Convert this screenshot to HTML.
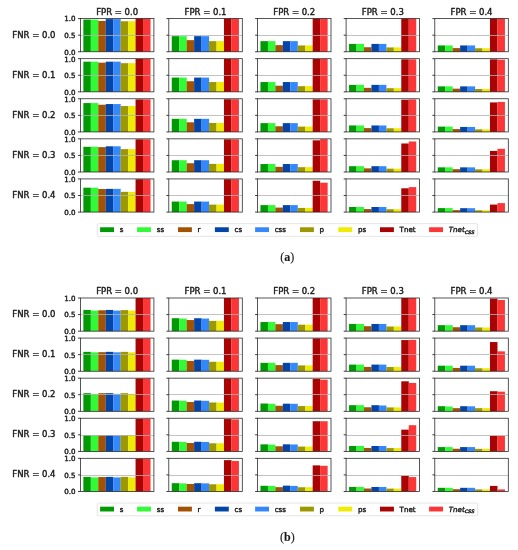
<!DOCTYPE html>
<html lang="en"><head><meta charset="utf-8"><title>Figure</title>
<style>html,body{margin:0;padding:0;background:#fff}svg{display:block}text{stroke:#1a1a1a;stroke-width:.4px}</style>
</head><body>
<svg width="518" height="550" viewBox="0 0 518 550" font-family="'DejaVu Sans', 'Liberation Sans', sans-serif" fill="#1a1a1a">
<rect width="518" height="550" fill="#fff"/>
<text x="12.3" y="37.67" font-size="8.5">FNR = 0.0</text>
<text x="75.6" y="21.45" font-size="7.1" text-anchor="end">1.0</text>
<text x="75.6" y="38.02" font-size="7.1" text-anchor="end">0.5</text>
<text x="75.6" y="54.6" font-size="7.1" text-anchor="end">0.0</text>
<text x="117.15" y="15" font-size="8.5" text-anchor="middle">FPR = 0.0</text>
<rect x="83.35" y="19.59" width="7.51" height="32.16" fill="#029a04"/>
<rect x="90.81" y="19.59" width="7.51" height="32.16" fill="#33fa36"/>
<rect x="98.27" y="20.92" width="7.51" height="30.83" fill="#a35203"/>
<rect x="105.73" y="19.1" width="7.51" height="32.65" fill="#0445a8"/>
<rect x="113.19" y="19.1" width="7.51" height="32.65" fill="#3588fc"/>
<rect x="120.65" y="21.25" width="7.51" height="30.5" fill="#9d9802"/>
<rect x="128.11" y="21.25" width="7.51" height="30.5" fill="#eeeb04"/>
<rect x="135.57" y="18.6" width="7.51" height="33.15" fill="#a80404"/>
<rect x="143.03" y="18.6" width="7.51" height="33.15" fill="#fc3636"/>
<path d="M80.4 35.5H153.9" stroke="#b2b2b2" stroke-width="0.8"/>
<rect x="80.4" y="18.6" width="73.5" height="33.15" fill="none" stroke="#262626" stroke-width="0.78"/>
<path d="M78 18.6H80.4M78 35.17H80.4M78 51.75H80.4" stroke="#262626" stroke-width="0.9"/>
<text x="205.55" y="15" font-size="8.5" text-anchor="middle">FPR = 0.1</text>
<rect x="171.75" y="36.17" width="7.51" height="15.58" fill="#029a04"/>
<rect x="179.21" y="36.17" width="7.51" height="15.58" fill="#33fa36"/>
<rect x="186.67" y="40.15" width="7.51" height="11.6" fill="#a35203"/>
<rect x="194.13" y="36.17" width="7.51" height="15.58" fill="#0445a8"/>
<rect x="201.59" y="36.17" width="7.51" height="15.58" fill="#3588fc"/>
<rect x="209.05" y="41.14" width="7.51" height="10.61" fill="#9d9802"/>
<rect x="216.51" y="41.14" width="7.51" height="10.61" fill="#eeeb04"/>
<rect x="223.97" y="18.6" width="7.51" height="33.15" fill="#a80404"/>
<rect x="231.43" y="18.6" width="7.51" height="33.15" fill="#fc3636"/>
<path d="M168.8 35.5H242.3" stroke="#b2b2b2" stroke-width="0.8"/>
<rect x="168.8" y="18.6" width="73.5" height="33.15" fill="none" stroke="#262626" stroke-width="0.78"/>
<path d="M166.4 18.6H168.8M166.4 35.17H168.8M166.4 51.75H168.8" stroke="#262626" stroke-width="0.9"/>
<text x="294.25" y="15" font-size="8.5" text-anchor="middle">FPR = 0.2</text>
<rect x="260.45" y="41.14" width="7.51" height="10.61" fill="#029a04"/>
<rect x="267.91" y="41.14" width="7.51" height="10.61" fill="#33fa36"/>
<rect x="275.37" y="45.12" width="7.51" height="6.63" fill="#a35203"/>
<rect x="282.83" y="41.14" width="7.51" height="10.61" fill="#0445a8"/>
<rect x="290.29" y="41.14" width="7.51" height="10.61" fill="#3588fc"/>
<rect x="297.75" y="45.45" width="7.51" height="6.3" fill="#9d9802"/>
<rect x="305.21" y="45.45" width="7.51" height="6.3" fill="#eeeb04"/>
<rect x="312.67" y="18.6" width="7.51" height="33.15" fill="#a80404"/>
<rect x="320.13" y="18.6" width="7.51" height="33.15" fill="#fc3636"/>
<path d="M257.5 35.5H331" stroke="#b2b2b2" stroke-width="0.8"/>
<rect x="257.5" y="18.6" width="73.5" height="33.15" fill="none" stroke="#262626" stroke-width="0.78"/>
<path d="M255.1 18.6H257.5M255.1 35.17H257.5M255.1 51.75H257.5" stroke="#262626" stroke-width="0.9"/>
<text x="382.85" y="15" font-size="8.5" text-anchor="middle">FPR = 0.3</text>
<rect x="349.05" y="43.93" width="7.51" height="7.82" fill="#029a04"/>
<rect x="356.51" y="43.93" width="7.51" height="7.82" fill="#33fa36"/>
<rect x="363.97" y="47.24" width="7.51" height="4.51" fill="#a35203"/>
<rect x="371.43" y="43.93" width="7.51" height="7.82" fill="#0445a8"/>
<rect x="378.89" y="43.93" width="7.51" height="7.82" fill="#3588fc"/>
<rect x="386.35" y="47.44" width="7.51" height="4.31" fill="#9d9802"/>
<rect x="393.81" y="47.44" width="7.51" height="4.31" fill="#eeeb04"/>
<rect x="401.27" y="18.6" width="7.51" height="33.15" fill="#a80404"/>
<rect x="408.73" y="18.6" width="7.51" height="33.15" fill="#fc3636"/>
<path d="M346.1 35.5H419.6" stroke="#b2b2b2" stroke-width="0.8"/>
<rect x="346.1" y="18.6" width="73.5" height="33.15" fill="none" stroke="#262626" stroke-width="0.78"/>
<path d="M343.7 18.6H346.1M343.7 35.17H346.1M343.7 51.75H346.1" stroke="#262626" stroke-width="0.9"/>
<text x="471.55" y="15" font-size="8.5" text-anchor="middle">FPR = 0.4</text>
<rect x="437.75" y="45.45" width="7.51" height="6.3" fill="#029a04"/>
<rect x="445.21" y="45.45" width="7.51" height="6.3" fill="#33fa36"/>
<rect x="452.67" y="48.1" width="7.51" height="3.65" fill="#a35203"/>
<rect x="460.13" y="45.45" width="7.51" height="6.3" fill="#0445a8"/>
<rect x="467.59" y="45.45" width="7.51" height="6.3" fill="#3588fc"/>
<rect x="475.05" y="48.27" width="7.51" height="3.48" fill="#9d9802"/>
<rect x="482.51" y="48.27" width="7.51" height="3.48" fill="#eeeb04"/>
<rect x="489.97" y="18.6" width="7.51" height="33.15" fill="#a80404"/>
<rect x="497.43" y="18.6" width="7.51" height="33.15" fill="#fc3636"/>
<path d="M434.8 35.5H508.3" stroke="#b2b2b2" stroke-width="0.8"/>
<rect x="434.8" y="18.6" width="73.5" height="33.15" fill="none" stroke="#262626" stroke-width="0.78"/>
<path d="M432.4 18.6H434.8M432.4 35.17H434.8M432.4 51.75H434.8" stroke="#262626" stroke-width="0.9"/>
<text x="12.3" y="77.75" font-size="8.5">FNR = 0.1</text>
<text x="75.6" y="61.53" font-size="7.1" text-anchor="end">1.0</text>
<text x="75.6" y="78.1" font-size="7.1" text-anchor="end">0.5</text>
<text x="75.6" y="94.68" font-size="7.1" text-anchor="end">0.0</text>
<rect x="83.35" y="61.66" width="7.51" height="30.17" fill="#029a04"/>
<rect x="90.81" y="61.66" width="7.51" height="30.17" fill="#33fa36"/>
<rect x="98.27" y="62.66" width="7.51" height="29.17" fill="#a35203"/>
<rect x="105.73" y="61.66" width="7.51" height="30.17" fill="#0445a8"/>
<rect x="113.19" y="61.66" width="7.51" height="30.17" fill="#3588fc"/>
<rect x="120.65" y="63.16" width="7.51" height="28.67" fill="#9d9802"/>
<rect x="128.11" y="63.16" width="7.51" height="28.67" fill="#eeeb04"/>
<rect x="135.57" y="59.01" width="7.51" height="32.82" fill="#a80404"/>
<rect x="143.03" y="59.01" width="7.51" height="32.82" fill="#fc3636"/>
<path d="M80.4 75.5H153.9" stroke="#b2b2b2" stroke-width="0.8"/>
<rect x="80.4" y="58.68" width="73.5" height="33.15" fill="none" stroke="#262626" stroke-width="0.78"/>
<path d="M78 58.68H80.4M78 75.25H80.4M78 91.83H80.4" stroke="#262626" stroke-width="0.9"/>
<rect x="171.75" y="77.58" width="7.51" height="14.25" fill="#029a04"/>
<rect x="179.21" y="77.58" width="7.51" height="14.25" fill="#33fa36"/>
<rect x="186.67" y="81.22" width="7.51" height="10.61" fill="#a35203"/>
<rect x="194.13" y="77.58" width="7.51" height="14.25" fill="#0445a8"/>
<rect x="201.59" y="77.58" width="7.51" height="14.25" fill="#3588fc"/>
<rect x="209.05" y="82.05" width="7.51" height="9.78" fill="#9d9802"/>
<rect x="216.51" y="82.05" width="7.51" height="9.78" fill="#eeeb04"/>
<rect x="223.97" y="59.01" width="7.51" height="32.82" fill="#a80404"/>
<rect x="231.43" y="59.01" width="7.51" height="32.82" fill="#fc3636"/>
<path d="M168.8 75.5H242.3" stroke="#b2b2b2" stroke-width="0.8"/>
<rect x="168.8" y="58.68" width="73.5" height="33.15" fill="none" stroke="#262626" stroke-width="0.78"/>
<path d="M166.4 58.68H168.8M166.4 75.25H168.8M166.4 91.83H168.8" stroke="#262626" stroke-width="0.9"/>
<rect x="260.45" y="82.05" width="7.51" height="9.78" fill="#029a04"/>
<rect x="267.91" y="82.05" width="7.51" height="9.78" fill="#33fa36"/>
<rect x="275.37" y="85.7" width="7.51" height="6.13" fill="#a35203"/>
<rect x="282.83" y="82.05" width="7.51" height="9.78" fill="#0445a8"/>
<rect x="290.29" y="82.05" width="7.51" height="9.78" fill="#3588fc"/>
<rect x="297.75" y="86.19" width="7.51" height="5.64" fill="#9d9802"/>
<rect x="305.21" y="86.19" width="7.51" height="5.64" fill="#eeeb04"/>
<rect x="312.67" y="59.01" width="7.51" height="32.82" fill="#a80404"/>
<rect x="320.13" y="59.01" width="7.51" height="32.82" fill="#fc3636"/>
<path d="M257.5 75.5H331" stroke="#b2b2b2" stroke-width="0.8"/>
<rect x="257.5" y="58.68" width="73.5" height="33.15" fill="none" stroke="#262626" stroke-width="0.78"/>
<path d="M255.1 58.68H257.5M255.1 75.25H257.5M255.1 91.83H257.5" stroke="#262626" stroke-width="0.9"/>
<rect x="349.05" y="84.87" width="7.51" height="6.96" fill="#029a04"/>
<rect x="356.51" y="84.87" width="7.51" height="6.96" fill="#33fa36"/>
<rect x="363.97" y="87.85" width="7.51" height="3.98" fill="#a35203"/>
<rect x="371.43" y="84.87" width="7.51" height="6.96" fill="#0445a8"/>
<rect x="378.89" y="84.87" width="7.51" height="6.96" fill="#3588fc"/>
<rect x="386.35" y="88.18" width="7.51" height="3.65" fill="#9d9802"/>
<rect x="393.81" y="88.18" width="7.51" height="3.65" fill="#eeeb04"/>
<rect x="401.27" y="59.34" width="7.51" height="32.49" fill="#a80404"/>
<rect x="408.73" y="59.34" width="7.51" height="32.49" fill="#fc3636"/>
<path d="M346.1 75.5H419.6" stroke="#b2b2b2" stroke-width="0.8"/>
<rect x="346.1" y="58.68" width="73.5" height="33.15" fill="none" stroke="#262626" stroke-width="0.78"/>
<path d="M343.7 58.68H346.1M343.7 75.25H346.1M343.7 91.83H346.1" stroke="#262626" stroke-width="0.9"/>
<rect x="437.75" y="86.36" width="7.51" height="5.47" fill="#029a04"/>
<rect x="445.21" y="86.36" width="7.51" height="5.47" fill="#33fa36"/>
<rect x="452.67" y="88.68" width="7.51" height="3.15" fill="#a35203"/>
<rect x="460.13" y="86.36" width="7.51" height="5.47" fill="#0445a8"/>
<rect x="467.59" y="86.36" width="7.51" height="5.47" fill="#3588fc"/>
<rect x="475.05" y="89.01" width="7.51" height="2.82" fill="#9d9802"/>
<rect x="482.51" y="89.01" width="7.51" height="2.82" fill="#eeeb04"/>
<rect x="489.97" y="59.34" width="7.51" height="32.49" fill="#a80404"/>
<rect x="497.43" y="59.67" width="7.51" height="32.16" fill="#fc3636"/>
<path d="M434.8 75.5H508.3" stroke="#b2b2b2" stroke-width="0.8"/>
<rect x="434.8" y="58.68" width="73.5" height="33.15" fill="none" stroke="#262626" stroke-width="0.78"/>
<path d="M432.4 58.68H434.8M432.4 75.25H434.8M432.4 91.83H434.8" stroke="#262626" stroke-width="0.9"/>
<text x="12.3" y="117.83" font-size="8.5">FNR = 0.2</text>
<text x="75.6" y="101.61" font-size="7.1" text-anchor="end">1.0</text>
<text x="75.6" y="118.18" font-size="7.1" text-anchor="end">0.5</text>
<text x="75.6" y="134.76" font-size="7.1" text-anchor="end">0.0</text>
<rect x="83.35" y="103.07" width="7.51" height="28.84" fill="#029a04"/>
<rect x="90.81" y="103.07" width="7.51" height="28.84" fill="#33fa36"/>
<rect x="98.27" y="104.73" width="7.51" height="27.18" fill="#a35203"/>
<rect x="105.73" y="104.06" width="7.51" height="27.85" fill="#0445a8"/>
<rect x="113.19" y="104.06" width="7.51" height="27.85" fill="#3588fc"/>
<rect x="120.65" y="106.05" width="7.51" height="25.86" fill="#9d9802"/>
<rect x="128.11" y="106.05" width="7.51" height="25.86" fill="#eeeb04"/>
<rect x="135.57" y="99.42" width="7.51" height="32.49" fill="#a80404"/>
<rect x="143.03" y="99.42" width="7.51" height="32.49" fill="#fc3636"/>
<path d="M80.4 115.5H153.9" stroke="#b2b2b2" stroke-width="0.8"/>
<rect x="80.4" y="98.76" width="73.5" height="33.15" fill="none" stroke="#262626" stroke-width="0.78"/>
<path d="M78 98.76H80.4M78 115.33H80.4M78 131.91H80.4" stroke="#262626" stroke-width="0.9"/>
<rect x="171.75" y="118.82" width="7.51" height="13.09" fill="#029a04"/>
<rect x="179.21" y="118.82" width="7.51" height="13.09" fill="#33fa36"/>
<rect x="186.67" y="122.3" width="7.51" height="9.61" fill="#a35203"/>
<rect x="194.13" y="118.82" width="7.51" height="13.09" fill="#0445a8"/>
<rect x="201.59" y="118.82" width="7.51" height="13.09" fill="#3588fc"/>
<rect x="209.05" y="122.96" width="7.51" height="8.95" fill="#9d9802"/>
<rect x="216.51" y="122.96" width="7.51" height="8.95" fill="#eeeb04"/>
<rect x="223.97" y="99.26" width="7.51" height="32.65" fill="#a80404"/>
<rect x="231.43" y="99.26" width="7.51" height="32.65" fill="#fc3636"/>
<path d="M168.8 115.5H242.3" stroke="#b2b2b2" stroke-width="0.8"/>
<rect x="168.8" y="98.76" width="73.5" height="33.15" fill="none" stroke="#262626" stroke-width="0.78"/>
<path d="M166.4 98.76H168.8M166.4 115.33H168.8M166.4 131.91H168.8" stroke="#262626" stroke-width="0.9"/>
<rect x="260.45" y="123.13" width="7.51" height="8.78" fill="#029a04"/>
<rect x="267.91" y="123.13" width="7.51" height="8.78" fill="#33fa36"/>
<rect x="275.37" y="126.27" width="7.51" height="5.64" fill="#a35203"/>
<rect x="282.83" y="123.13" width="7.51" height="8.78" fill="#0445a8"/>
<rect x="290.29" y="123.13" width="7.51" height="8.78" fill="#3588fc"/>
<rect x="297.75" y="126.61" width="7.51" height="5.3" fill="#9d9802"/>
<rect x="305.21" y="126.61" width="7.51" height="5.3" fill="#eeeb04"/>
<rect x="312.67" y="99.42" width="7.51" height="32.49" fill="#a80404"/>
<rect x="320.13" y="99.42" width="7.51" height="32.49" fill="#fc3636"/>
<path d="M257.5 115.5H331" stroke="#b2b2b2" stroke-width="0.8"/>
<rect x="257.5" y="98.76" width="73.5" height="33.15" fill="none" stroke="#262626" stroke-width="0.78"/>
<path d="M255.1 98.76H257.5M255.1 115.33H257.5M255.1 131.91H257.5" stroke="#262626" stroke-width="0.9"/>
<rect x="349.05" y="125.45" width="7.51" height="6.46" fill="#029a04"/>
<rect x="356.51" y="125.45" width="7.51" height="6.46" fill="#33fa36"/>
<rect x="363.97" y="128.1" width="7.51" height="3.81" fill="#a35203"/>
<rect x="371.43" y="125.45" width="7.51" height="6.46" fill="#0445a8"/>
<rect x="378.89" y="125.45" width="7.51" height="6.46" fill="#3588fc"/>
<rect x="386.35" y="128.26" width="7.51" height="3.65" fill="#9d9802"/>
<rect x="393.81" y="128.26" width="7.51" height="3.65" fill="#eeeb04"/>
<rect x="401.27" y="99.75" width="7.51" height="32.16" fill="#a80404"/>
<rect x="408.73" y="99.42" width="7.51" height="32.49" fill="#fc3636"/>
<path d="M346.1 115.5H419.6" stroke="#b2b2b2" stroke-width="0.8"/>
<rect x="346.1" y="98.76" width="73.5" height="33.15" fill="none" stroke="#262626" stroke-width="0.78"/>
<path d="M343.7 98.76H346.1M343.7 115.33H346.1M343.7 131.91H346.1" stroke="#262626" stroke-width="0.9"/>
<rect x="437.75" y="126.61" width="7.51" height="5.3" fill="#029a04"/>
<rect x="445.21" y="126.61" width="7.51" height="5.3" fill="#33fa36"/>
<rect x="452.67" y="129.09" width="7.51" height="2.82" fill="#a35203"/>
<rect x="460.13" y="126.94" width="7.51" height="4.97" fill="#0445a8"/>
<rect x="467.59" y="126.94" width="7.51" height="4.97" fill="#3588fc"/>
<rect x="475.05" y="129.36" width="7.51" height="2.55" fill="#9d9802"/>
<rect x="482.51" y="129.36" width="7.51" height="2.55" fill="#eeeb04"/>
<rect x="489.97" y="102.41" width="7.51" height="29.5" fill="#a80404"/>
<rect x="497.43" y="101.91" width="7.51" height="30" fill="#fc3636"/>
<path d="M434.8 115.5H508.3" stroke="#b2b2b2" stroke-width="0.8"/>
<rect x="434.8" y="98.76" width="73.5" height="33.15" fill="none" stroke="#262626" stroke-width="0.78"/>
<path d="M432.4 98.76H434.8M432.4 115.33H434.8M432.4 131.91H434.8" stroke="#262626" stroke-width="0.9"/>
<text x="12.3" y="157.91" font-size="8.5">FNR = 0.3</text>
<text x="75.6" y="141.69" font-size="7.1" text-anchor="end">1.0</text>
<text x="75.6" y="158.27" font-size="7.1" text-anchor="end">0.5</text>
<text x="75.6" y="174.84" font-size="7.1" text-anchor="end">0.0</text>
<rect x="83.35" y="146.8" width="7.51" height="25.19" fill="#029a04"/>
<rect x="90.81" y="146.8" width="7.51" height="25.19" fill="#33fa36"/>
<rect x="98.27" y="147.13" width="7.51" height="24.86" fill="#a35203"/>
<rect x="105.73" y="146.3" width="7.51" height="25.69" fill="#0445a8"/>
<rect x="113.19" y="146.3" width="7.51" height="25.69" fill="#3588fc"/>
<rect x="120.65" y="149.12" width="7.51" height="22.87" fill="#9d9802"/>
<rect x="128.11" y="149.12" width="7.51" height="22.87" fill="#eeeb04"/>
<rect x="135.57" y="139.34" width="7.51" height="32.65" fill="#a80404"/>
<rect x="143.03" y="139.34" width="7.51" height="32.65" fill="#fc3636"/>
<path d="M80.4 155.5H153.9" stroke="#b2b2b2" stroke-width="0.8"/>
<rect x="80.4" y="138.84" width="73.5" height="33.15" fill="none" stroke="#262626" stroke-width="0.78"/>
<path d="M78 138.84H80.4M78 155.42H80.4M78 171.99H80.4" stroke="#262626" stroke-width="0.9"/>
<rect x="171.75" y="160.22" width="7.51" height="11.77" fill="#029a04"/>
<rect x="179.21" y="160.22" width="7.51" height="11.77" fill="#33fa36"/>
<rect x="186.67" y="163.21" width="7.51" height="8.78" fill="#a35203"/>
<rect x="194.13" y="160.22" width="7.51" height="11.77" fill="#0445a8"/>
<rect x="201.59" y="160.22" width="7.51" height="11.77" fill="#3588fc"/>
<rect x="209.05" y="163.87" width="7.51" height="8.12" fill="#9d9802"/>
<rect x="216.51" y="163.87" width="7.51" height="8.12" fill="#eeeb04"/>
<rect x="223.97" y="139.34" width="7.51" height="32.65" fill="#a80404"/>
<rect x="231.43" y="139.34" width="7.51" height="32.65" fill="#fc3636"/>
<path d="M168.8 155.5H242.3" stroke="#b2b2b2" stroke-width="0.8"/>
<rect x="168.8" y="138.84" width="73.5" height="33.15" fill="none" stroke="#262626" stroke-width="0.78"/>
<path d="M166.4 138.84H168.8M166.4 155.42H168.8M166.4 171.99H168.8" stroke="#262626" stroke-width="0.9"/>
<rect x="260.45" y="164.03" width="7.51" height="7.96" fill="#029a04"/>
<rect x="267.91" y="164.03" width="7.51" height="7.96" fill="#33fa36"/>
<rect x="275.37" y="166.85" width="7.51" height="5.14" fill="#a35203"/>
<rect x="282.83" y="164.03" width="7.51" height="7.96" fill="#0445a8"/>
<rect x="290.29" y="164.03" width="7.51" height="7.96" fill="#3588fc"/>
<rect x="297.75" y="167.18" width="7.51" height="4.81" fill="#9d9802"/>
<rect x="305.21" y="167.18" width="7.51" height="4.81" fill="#eeeb04"/>
<rect x="312.67" y="140.33" width="7.51" height="31.66" fill="#a80404"/>
<rect x="320.13" y="139.17" width="7.51" height="32.82" fill="#fc3636"/>
<path d="M257.5 155.5H331" stroke="#b2b2b2" stroke-width="0.8"/>
<rect x="257.5" y="138.84" width="73.5" height="33.15" fill="none" stroke="#262626" stroke-width="0.78"/>
<path d="M255.1 138.84H257.5M255.1 155.42H257.5M255.1 171.99H257.5" stroke="#262626" stroke-width="0.9"/>
<rect x="349.05" y="166.19" width="7.51" height="5.8" fill="#029a04"/>
<rect x="356.51" y="166.19" width="7.51" height="5.8" fill="#33fa36"/>
<rect x="363.97" y="168.34" width="7.51" height="3.65" fill="#a35203"/>
<rect x="371.43" y="166.19" width="7.51" height="5.8" fill="#0445a8"/>
<rect x="378.89" y="166.19" width="7.51" height="5.8" fill="#3588fc"/>
<rect x="386.35" y="168.68" width="7.51" height="3.31" fill="#9d9802"/>
<rect x="393.81" y="168.68" width="7.51" height="3.31" fill="#eeeb04"/>
<rect x="401.27" y="143.48" width="7.51" height="28.51" fill="#a80404"/>
<rect x="408.73" y="141.49" width="7.51" height="30.5" fill="#fc3636"/>
<path d="M346.1 155.5H419.6" stroke="#b2b2b2" stroke-width="0.8"/>
<rect x="346.1" y="138.84" width="73.5" height="33.15" fill="none" stroke="#262626" stroke-width="0.78"/>
<path d="M343.7 138.84H346.1M343.7 155.42H346.1M343.7 171.99H346.1" stroke="#262626" stroke-width="0.9"/>
<rect x="437.75" y="167.35" width="7.51" height="4.64" fill="#029a04"/>
<rect x="445.21" y="167.35" width="7.51" height="4.64" fill="#33fa36"/>
<rect x="452.67" y="169.17" width="7.51" height="2.82" fill="#a35203"/>
<rect x="460.13" y="167.35" width="7.51" height="4.64" fill="#0445a8"/>
<rect x="467.59" y="167.35" width="7.51" height="4.64" fill="#3588fc"/>
<rect x="475.05" y="169.34" width="7.51" height="2.65" fill="#9d9802"/>
<rect x="482.51" y="169.34" width="7.51" height="2.65" fill="#eeeb04"/>
<rect x="489.97" y="150.94" width="7.51" height="21.05" fill="#a80404"/>
<rect x="497.43" y="148.79" width="7.51" height="23.2" fill="#fc3636"/>
<path d="M434.8 155.5H508.3" stroke="#b2b2b2" stroke-width="0.8"/>
<rect x="434.8" y="138.84" width="73.5" height="33.15" fill="none" stroke="#262626" stroke-width="0.78"/>
<path d="M432.4 138.84H434.8M432.4 155.42H434.8M432.4 171.99H434.8" stroke="#262626" stroke-width="0.9"/>
<text x="12.3" y="197.99" font-size="8.5">FNR = 0.4</text>
<text x="75.6" y="181.77" font-size="7.1" text-anchor="end">1.0</text>
<text x="75.6" y="198.34" font-size="7.1" text-anchor="end">0.5</text>
<text x="75.6" y="214.92" font-size="7.1" text-anchor="end">0.0</text>
<rect x="83.35" y="187.7" width="7.51" height="24.37" fill="#029a04"/>
<rect x="90.81" y="187.7" width="7.51" height="24.37" fill="#33fa36"/>
<rect x="98.27" y="189.03" width="7.51" height="23.04" fill="#a35203"/>
<rect x="105.73" y="188.87" width="7.51" height="23.2" fill="#0445a8"/>
<rect x="113.19" y="188.87" width="7.51" height="23.2" fill="#3588fc"/>
<rect x="120.65" y="191.85" width="7.51" height="20.22" fill="#9d9802"/>
<rect x="128.11" y="191.85" width="7.51" height="20.22" fill="#eeeb04"/>
<rect x="135.57" y="179.25" width="7.51" height="32.82" fill="#a80404"/>
<rect x="143.03" y="179.25" width="7.51" height="32.82" fill="#fc3636"/>
<path d="M80.4 195.5H153.9" stroke="#b2b2b2" stroke-width="0.8"/>
<rect x="80.4" y="178.92" width="73.5" height="33.15" fill="none" stroke="#262626" stroke-width="0.78"/>
<path d="M78 178.92H80.4M78 195.5H80.4M78 212.07H80.4" stroke="#262626" stroke-width="0.9"/>
<rect x="171.75" y="201.56" width="7.51" height="10.51" fill="#029a04"/>
<rect x="179.21" y="201.56" width="7.51" height="10.51" fill="#33fa36"/>
<rect x="186.67" y="204.11" width="7.51" height="7.96" fill="#a35203"/>
<rect x="194.13" y="201.56" width="7.51" height="10.51" fill="#0445a8"/>
<rect x="201.59" y="201.56" width="7.51" height="10.51" fill="#3588fc"/>
<rect x="209.05" y="204.61" width="7.51" height="7.46" fill="#9d9802"/>
<rect x="216.51" y="204.61" width="7.51" height="7.46" fill="#eeeb04"/>
<rect x="223.97" y="179.25" width="7.51" height="32.82" fill="#a80404"/>
<rect x="231.43" y="179.25" width="7.51" height="32.82" fill="#fc3636"/>
<path d="M168.8 195.5H242.3" stroke="#b2b2b2" stroke-width="0.8"/>
<rect x="168.8" y="178.92" width="73.5" height="33.15" fill="none" stroke="#262626" stroke-width="0.78"/>
<path d="M166.4 178.92H168.8M166.4 195.5H168.8M166.4 212.07H168.8" stroke="#262626" stroke-width="0.9"/>
<rect x="260.45" y="205.11" width="7.51" height="6.96" fill="#029a04"/>
<rect x="267.91" y="205.11" width="7.51" height="6.96" fill="#33fa36"/>
<rect x="275.37" y="207.59" width="7.51" height="4.48" fill="#a35203"/>
<rect x="282.83" y="205.11" width="7.51" height="6.96" fill="#0445a8"/>
<rect x="290.29" y="205.11" width="7.51" height="6.96" fill="#3588fc"/>
<rect x="297.75" y="207.93" width="7.51" height="4.14" fill="#9d9802"/>
<rect x="305.21" y="207.93" width="7.51" height="4.14" fill="#eeeb04"/>
<rect x="312.67" y="180.74" width="7.51" height="31.33" fill="#a80404"/>
<rect x="320.13" y="182.73" width="7.51" height="29.34" fill="#fc3636"/>
<path d="M257.5 195.5H331" stroke="#b2b2b2" stroke-width="0.8"/>
<rect x="257.5" y="178.92" width="73.5" height="33.15" fill="none" stroke="#262626" stroke-width="0.78"/>
<path d="M255.1 178.92H257.5M255.1 195.5H257.5M255.1 212.07H257.5" stroke="#262626" stroke-width="0.9"/>
<rect x="349.05" y="207" width="7.51" height="5.07" fill="#029a04"/>
<rect x="356.51" y="207" width="7.51" height="5.07" fill="#33fa36"/>
<rect x="363.97" y="209.09" width="7.51" height="2.98" fill="#a35203"/>
<rect x="371.43" y="207" width="7.51" height="5.07" fill="#0445a8"/>
<rect x="378.89" y="207" width="7.51" height="5.07" fill="#3588fc"/>
<rect x="386.35" y="209.25" width="7.51" height="2.82" fill="#9d9802"/>
<rect x="393.81" y="209.25" width="7.51" height="2.82" fill="#eeeb04"/>
<rect x="401.27" y="188.3" width="7.51" height="23.77" fill="#a80404"/>
<rect x="408.73" y="187.11" width="7.51" height="24.96" fill="#fc3636"/>
<path d="M346.1 195.5H419.6" stroke="#b2b2b2" stroke-width="0.8"/>
<rect x="346.1" y="178.92" width="73.5" height="33.15" fill="none" stroke="#262626" stroke-width="0.78"/>
<path d="M343.7 178.92H346.1M343.7 195.5H346.1M343.7 212.07H346.1" stroke="#262626" stroke-width="0.9"/>
<rect x="437.75" y="208.09" width="7.51" height="3.98" fill="#029a04"/>
<rect x="445.21" y="208.09" width="7.51" height="3.98" fill="#33fa36"/>
<rect x="452.67" y="210.15" width="7.51" height="1.92" fill="#a35203"/>
<rect x="460.13" y="208.19" width="7.51" height="3.88" fill="#0445a8"/>
<rect x="467.59" y="208.19" width="7.51" height="3.88" fill="#3588fc"/>
<rect x="475.05" y="210.31" width="7.51" height="1.76" fill="#9d9802"/>
<rect x="482.51" y="210.31" width="7.51" height="1.76" fill="#eeeb04"/>
<rect x="489.97" y="204.58" width="7.51" height="7.49" fill="#a80404"/>
<rect x="497.43" y="203.12" width="7.51" height="8.95" fill="#fc3636"/>
<path d="M434.8 195.5H508.3" stroke="#b2b2b2" stroke-width="0.8"/>
<rect x="434.8" y="178.92" width="73.5" height="33.15" fill="none" stroke="#262626" stroke-width="0.78"/>
<path d="M432.4 178.92H434.8M432.4 195.5H434.8M432.4 212.07H434.8" stroke="#262626" stroke-width="0.9"/>
<rect x="97.2" y="223.67" width="380.3" height="12.7" rx="1.4" fill="#fff" stroke="#dadada" stroke-width="0.7"/>
<rect x="100.1" y="227.27" width="13.9" height="4.8" fill="#029a04"/>
<text x="119.7" y="232.27" font-size="7.1">s</text>
<rect x="137.1" y="227.27" width="13.9" height="4.8" fill="#33fa36"/>
<text x="156.7" y="232.27" font-size="7.1">ss</text>
<rect x="178" y="227.27" width="13.9" height="4.8" fill="#a35203"/>
<text x="197.6" y="232.27" font-size="7.1">r</text>
<rect x="214.9" y="227.27" width="13.9" height="4.8" fill="#0445a8"/>
<text x="234.5" y="232.27" font-size="7.1">cs</text>
<rect x="255.1" y="227.27" width="13.9" height="4.8" fill="#3588fc"/>
<text x="274.7" y="232.27" font-size="7.1">css</text>
<rect x="300" y="227.27" width="13.9" height="4.8" fill="#9d9802"/>
<text x="319.6" y="232.27" font-size="7.1">p</text>
<rect x="338.3" y="227.27" width="13.9" height="4.8" fill="#eeeb04"/>
<text x="357.9" y="232.27" font-size="7.1">ps</text>
<rect x="380" y="227.27" width="13.9" height="4.8" fill="#a80404"/>
<text x="399.6" y="232.27" font-size="7.1">Tnet</text>
<rect x="429.1" y="227.27" width="13.9" height="4.8" fill="#fc3636"/>
<text x="448.7" y="232.27" font-size="7.1" font-style="italic">Tnet<tspan dy="1.5" font-size="6.2">css</tspan></text>
<text x="287.3" y="261.2" font-size="12" text-anchor="middle" style="stroke-width:.12px" font-family="'Liberation Serif', 'DejaVu Serif', serif">(<tspan font-weight="bold">a</tspan>)</text>
<text x="12.3" y="317.07" font-size="8.5">FNR = 0.0</text>
<text x="75.6" y="300.85" font-size="7.1" text-anchor="end">1.0</text>
<text x="75.6" y="317.43" font-size="7.1" text-anchor="end">0.5</text>
<text x="75.6" y="334" font-size="7.1" text-anchor="end">0.0</text>
<text x="117.15" y="294.4" font-size="8.5" text-anchor="middle">FPR = 0.0</text>
<rect x="83.35" y="309.93" width="7.51" height="21.22" fill="#029a04"/>
<rect x="90.81" y="310.6" width="7.51" height="20.55" fill="#33fa36"/>
<rect x="98.27" y="310.27" width="7.51" height="20.88" fill="#a35203"/>
<rect x="105.73" y="309.93" width="7.51" height="21.22" fill="#0445a8"/>
<rect x="113.19" y="310.6" width="7.51" height="20.55" fill="#3588fc"/>
<rect x="120.65" y="310.1" width="7.51" height="21.05" fill="#9d9802"/>
<rect x="128.11" y="310.6" width="7.51" height="20.55" fill="#eeeb04"/>
<rect x="135.57" y="298" width="7.51" height="33.15" fill="#a80404"/>
<rect x="143.03" y="298" width="7.51" height="33.15" fill="#fc3636"/>
<path d="M80.4 314.5H153.9" stroke="#b2b2b2" stroke-width="0.8"/>
<rect x="80.4" y="298" width="73.5" height="33.15" fill="none" stroke="#262626" stroke-width="0.78"/>
<path d="M78 298H80.4M78 314.57H80.4M78 331.15H80.4" stroke="#262626" stroke-width="0.9"/>
<text x="205.55" y="294.4" font-size="8.5" text-anchor="middle">FPR = 0.1</text>
<rect x="171.75" y="318.22" width="7.51" height="12.93" fill="#029a04"/>
<rect x="179.21" y="318.55" width="7.51" height="12.6" fill="#33fa36"/>
<rect x="186.67" y="320.04" width="7.51" height="11.11" fill="#a35203"/>
<rect x="194.13" y="318.22" width="7.51" height="12.93" fill="#0445a8"/>
<rect x="201.59" y="318.55" width="7.51" height="12.6" fill="#3588fc"/>
<rect x="209.05" y="320.87" width="7.51" height="10.28" fill="#9d9802"/>
<rect x="216.51" y="320.87" width="7.51" height="10.28" fill="#eeeb04"/>
<rect x="223.97" y="298" width="7.51" height="33.15" fill="#a80404"/>
<rect x="231.43" y="298" width="7.51" height="33.15" fill="#fc3636"/>
<path d="M168.8 314.5H242.3" stroke="#b2b2b2" stroke-width="0.8"/>
<rect x="168.8" y="298" width="73.5" height="33.15" fill="none" stroke="#262626" stroke-width="0.78"/>
<path d="M166.4 298H168.8M166.4 314.57H168.8M166.4 331.15H168.8" stroke="#262626" stroke-width="0.9"/>
<text x="294.25" y="294.4" font-size="8.5" text-anchor="middle">FPR = 0.2</text>
<rect x="260.45" y="322.03" width="7.51" height="9.12" fill="#029a04"/>
<rect x="267.91" y="322.03" width="7.51" height="9.12" fill="#33fa36"/>
<rect x="275.37" y="324.19" width="7.51" height="6.96" fill="#a35203"/>
<rect x="282.83" y="322.03" width="7.51" height="9.12" fill="#0445a8"/>
<rect x="290.29" y="322.03" width="7.51" height="9.12" fill="#3588fc"/>
<rect x="297.75" y="324.69" width="7.51" height="6.46" fill="#9d9802"/>
<rect x="305.21" y="324.69" width="7.51" height="6.46" fill="#eeeb04"/>
<rect x="312.67" y="298" width="7.51" height="33.15" fill="#a80404"/>
<rect x="320.13" y="298" width="7.51" height="33.15" fill="#fc3636"/>
<path d="M257.5 314.5H331" stroke="#b2b2b2" stroke-width="0.8"/>
<rect x="257.5" y="298" width="73.5" height="33.15" fill="none" stroke="#262626" stroke-width="0.78"/>
<path d="M255.1 298H257.5M255.1 314.57H257.5M255.1 331.15H257.5" stroke="#262626" stroke-width="0.9"/>
<text x="382.85" y="294.4" font-size="8.5" text-anchor="middle">FPR = 0.3</text>
<rect x="349.05" y="323.96" width="7.51" height="7.19" fill="#029a04"/>
<rect x="356.51" y="323.96" width="7.51" height="7.19" fill="#33fa36"/>
<rect x="363.97" y="326.18" width="7.51" height="4.97" fill="#a35203"/>
<rect x="371.43" y="323.96" width="7.51" height="7.19" fill="#0445a8"/>
<rect x="378.89" y="323.96" width="7.51" height="7.19" fill="#3588fc"/>
<rect x="386.35" y="326.51" width="7.51" height="4.64" fill="#9d9802"/>
<rect x="393.81" y="326.51" width="7.51" height="4.64" fill="#eeeb04"/>
<rect x="401.27" y="298" width="7.51" height="33.15" fill="#a80404"/>
<rect x="408.73" y="298" width="7.51" height="33.15" fill="#fc3636"/>
<path d="M346.1 314.5H419.6" stroke="#b2b2b2" stroke-width="0.8"/>
<rect x="346.1" y="298" width="73.5" height="33.15" fill="none" stroke="#262626" stroke-width="0.78"/>
<path d="M343.7 298H346.1M343.7 314.57H346.1M343.7 331.15H346.1" stroke="#262626" stroke-width="0.9"/>
<text x="471.55" y="294.4" font-size="8.5" text-anchor="middle">FPR = 0.4</text>
<rect x="437.75" y="325.18" width="7.51" height="5.97" fill="#029a04"/>
<rect x="445.21" y="325.18" width="7.51" height="5.97" fill="#33fa36"/>
<rect x="452.67" y="327.24" width="7.51" height="3.91" fill="#a35203"/>
<rect x="460.13" y="325.18" width="7.51" height="5.97" fill="#0445a8"/>
<rect x="467.59" y="325.18" width="7.51" height="5.97" fill="#3588fc"/>
<rect x="475.05" y="327.5" width="7.51" height="3.65" fill="#9d9802"/>
<rect x="482.51" y="327.5" width="7.51" height="3.65" fill="#eeeb04"/>
<rect x="489.97" y="298.66" width="7.51" height="32.49" fill="#a80404"/>
<rect x="497.43" y="299.99" width="7.51" height="31.16" fill="#fc3636"/>
<path d="M434.8 314.5H508.3" stroke="#b2b2b2" stroke-width="0.8"/>
<rect x="434.8" y="298" width="73.5" height="33.15" fill="none" stroke="#262626" stroke-width="0.78"/>
<path d="M432.4 298H434.8M432.4 314.57H434.8M432.4 331.15H434.8" stroke="#262626" stroke-width="0.9"/>
<text x="12.3" y="357.15" font-size="8.5">FNR = 0.1</text>
<text x="75.6" y="340.93" font-size="7.1" text-anchor="end">1.0</text>
<text x="75.6" y="357.5" font-size="7.1" text-anchor="end">0.5</text>
<text x="75.6" y="374.08" font-size="7.1" text-anchor="end">0.0</text>
<rect x="83.35" y="351.84" width="7.51" height="19.39" fill="#029a04"/>
<rect x="90.81" y="352.33" width="7.51" height="18.9" fill="#33fa36"/>
<rect x="98.27" y="352.17" width="7.51" height="19.06" fill="#a35203"/>
<rect x="105.73" y="351.84" width="7.51" height="19.39" fill="#0445a8"/>
<rect x="113.19" y="352.33" width="7.51" height="18.9" fill="#3588fc"/>
<rect x="120.65" y="351.84" width="7.51" height="19.39" fill="#9d9802"/>
<rect x="128.11" y="352.33" width="7.51" height="18.9" fill="#eeeb04"/>
<rect x="135.57" y="338.41" width="7.51" height="32.82" fill="#a80404"/>
<rect x="143.03" y="338.41" width="7.51" height="32.82" fill="#fc3636"/>
<path d="M80.4 354.5H153.9" stroke="#b2b2b2" stroke-width="0.8"/>
<rect x="80.4" y="338.08" width="73.5" height="33.15" fill="none" stroke="#262626" stroke-width="0.78"/>
<path d="M78 338.08H80.4M78 354.65H80.4M78 371.23H80.4" stroke="#262626" stroke-width="0.9"/>
<rect x="171.75" y="359.63" width="7.51" height="11.6" fill="#029a04"/>
<rect x="179.21" y="359.79" width="7.51" height="11.44" fill="#33fa36"/>
<rect x="186.67" y="360.95" width="7.51" height="10.28" fill="#a35203"/>
<rect x="194.13" y="359.63" width="7.51" height="11.6" fill="#0445a8"/>
<rect x="201.59" y="359.79" width="7.51" height="11.44" fill="#3588fc"/>
<rect x="209.05" y="361.78" width="7.51" height="9.45" fill="#9d9802"/>
<rect x="216.51" y="361.78" width="7.51" height="9.45" fill="#eeeb04"/>
<rect x="223.97" y="338.41" width="7.51" height="32.82" fill="#a80404"/>
<rect x="231.43" y="338.41" width="7.51" height="32.82" fill="#fc3636"/>
<path d="M168.8 354.5H242.3" stroke="#b2b2b2" stroke-width="0.8"/>
<rect x="168.8" y="338.08" width="73.5" height="33.15" fill="none" stroke="#262626" stroke-width="0.78"/>
<path d="M166.4 338.08H168.8M166.4 354.65H168.8M166.4 371.23H168.8" stroke="#262626" stroke-width="0.9"/>
<rect x="260.45" y="362.84" width="7.51" height="8.39" fill="#029a04"/>
<rect x="267.91" y="362.84" width="7.51" height="8.39" fill="#33fa36"/>
<rect x="275.37" y="365.1" width="7.51" height="6.13" fill="#a35203"/>
<rect x="282.83" y="362.84" width="7.51" height="8.39" fill="#0445a8"/>
<rect x="290.29" y="362.84" width="7.51" height="8.39" fill="#3588fc"/>
<rect x="297.75" y="365.4" width="7.51" height="5.83" fill="#9d9802"/>
<rect x="305.21" y="365.4" width="7.51" height="5.83" fill="#eeeb04"/>
<rect x="312.67" y="338.41" width="7.51" height="32.82" fill="#a80404"/>
<rect x="320.13" y="338.41" width="7.51" height="32.82" fill="#fc3636"/>
<path d="M257.5 354.5H331" stroke="#b2b2b2" stroke-width="0.8"/>
<rect x="257.5" y="338.08" width="73.5" height="33.15" fill="none" stroke="#262626" stroke-width="0.78"/>
<path d="M255.1 338.08H257.5M255.1 354.65H257.5M255.1 371.23H257.5" stroke="#262626" stroke-width="0.9"/>
<rect x="349.05" y="364.6" width="7.51" height="6.63" fill="#029a04"/>
<rect x="356.51" y="364.6" width="7.51" height="6.63" fill="#33fa36"/>
<rect x="363.97" y="366.92" width="7.51" height="4.31" fill="#a35203"/>
<rect x="371.43" y="364.6" width="7.51" height="6.63" fill="#0445a8"/>
<rect x="378.89" y="364.6" width="7.51" height="6.63" fill="#3588fc"/>
<rect x="386.35" y="367.02" width="7.51" height="4.21" fill="#9d9802"/>
<rect x="393.81" y="367.02" width="7.51" height="4.21" fill="#eeeb04"/>
<rect x="401.27" y="340.07" width="7.51" height="31.16" fill="#a80404"/>
<rect x="408.73" y="339.9" width="7.51" height="31.33" fill="#fc3636"/>
<path d="M346.1 354.5H419.6" stroke="#b2b2b2" stroke-width="0.8"/>
<rect x="346.1" y="338.08" width="73.5" height="33.15" fill="none" stroke="#262626" stroke-width="0.78"/>
<path d="M343.7 338.08H346.1M343.7 354.65H346.1M343.7 371.23H346.1" stroke="#262626" stroke-width="0.9"/>
<rect x="437.75" y="365.69" width="7.51" height="5.54" fill="#029a04"/>
<rect x="445.21" y="365.69" width="7.51" height="5.54" fill="#33fa36"/>
<rect x="452.67" y="367.91" width="7.51" height="3.31" fill="#a35203"/>
<rect x="460.13" y="365.69" width="7.51" height="5.54" fill="#0445a8"/>
<rect x="467.59" y="365.69" width="7.51" height="5.54" fill="#3588fc"/>
<rect x="475.05" y="368.25" width="7.51" height="2.98" fill="#9d9802"/>
<rect x="482.51" y="368.25" width="7.51" height="2.98" fill="#eeeb04"/>
<rect x="489.97" y="342.06" width="7.51" height="29.17" fill="#a80404"/>
<rect x="497.43" y="351.34" width="7.51" height="19.89" fill="#fc3636"/>
<path d="M434.8 354.5H508.3" stroke="#b2b2b2" stroke-width="0.8"/>
<rect x="434.8" y="338.08" width="73.5" height="33.15" fill="none" stroke="#262626" stroke-width="0.78"/>
<path d="M432.4 338.08H434.8M432.4 354.65H434.8M432.4 371.23H434.8" stroke="#262626" stroke-width="0.9"/>
<text x="12.3" y="397.23" font-size="8.5">FNR = 0.2</text>
<text x="75.6" y="381.01" font-size="7.1" text-anchor="end">1.0</text>
<text x="75.6" y="397.58" font-size="7.1" text-anchor="end">0.5</text>
<text x="75.6" y="414.16" font-size="7.1" text-anchor="end">0.0</text>
<rect x="83.35" y="393.18" width="7.51" height="18.13" fill="#029a04"/>
<rect x="90.81" y="394.07" width="7.51" height="17.24" fill="#33fa36"/>
<rect x="98.27" y="393.18" width="7.51" height="18.13" fill="#a35203"/>
<rect x="105.73" y="393.18" width="7.51" height="18.13" fill="#0445a8"/>
<rect x="113.19" y="393.91" width="7.51" height="17.4" fill="#3588fc"/>
<rect x="120.65" y="393.18" width="7.51" height="18.13" fill="#9d9802"/>
<rect x="128.11" y="393.91" width="7.51" height="17.4" fill="#eeeb04"/>
<rect x="135.57" y="378.49" width="7.51" height="32.82" fill="#a80404"/>
<rect x="143.03" y="378.49" width="7.51" height="32.82" fill="#fc3636"/>
<path d="M80.4 394.5H153.9" stroke="#b2b2b2" stroke-width="0.8"/>
<rect x="80.4" y="378.16" width="73.5" height="33.15" fill="none" stroke="#262626" stroke-width="0.78"/>
<path d="M78 378.16H80.4M78 394.73H80.4M78 411.31H80.4" stroke="#262626" stroke-width="0.9"/>
<rect x="171.75" y="400.54" width="7.51" height="10.77" fill="#029a04"/>
<rect x="179.21" y="400.8" width="7.51" height="10.51" fill="#33fa36"/>
<rect x="186.67" y="402.03" width="7.51" height="9.28" fill="#a35203"/>
<rect x="194.13" y="400.54" width="7.51" height="10.77" fill="#0445a8"/>
<rect x="201.59" y="400.8" width="7.51" height="10.51" fill="#3588fc"/>
<rect x="209.05" y="402.46" width="7.51" height="8.85" fill="#9d9802"/>
<rect x="216.51" y="402.62" width="7.51" height="8.69" fill="#eeeb04"/>
<rect x="223.97" y="378.49" width="7.51" height="32.82" fill="#a80404"/>
<rect x="231.43" y="378.49" width="7.51" height="32.82" fill="#fc3636"/>
<path d="M168.8 394.5H242.3" stroke="#b2b2b2" stroke-width="0.8"/>
<rect x="168.8" y="378.16" width="73.5" height="33.15" fill="none" stroke="#262626" stroke-width="0.78"/>
<path d="M166.4 378.16H168.8M166.4 394.73H168.8M166.4 411.31H168.8" stroke="#262626" stroke-width="0.9"/>
<rect x="260.45" y="403.52" width="7.51" height="7.79" fill="#029a04"/>
<rect x="267.91" y="403.82" width="7.51" height="7.49" fill="#33fa36"/>
<rect x="275.37" y="405.77" width="7.51" height="5.54" fill="#a35203"/>
<rect x="282.83" y="403.69" width="7.51" height="7.62" fill="#0445a8"/>
<rect x="290.29" y="403.82" width="7.51" height="7.49" fill="#3588fc"/>
<rect x="297.75" y="406.07" width="7.51" height="5.24" fill="#9d9802"/>
<rect x="305.21" y="406.07" width="7.51" height="5.24" fill="#eeeb04"/>
<rect x="312.67" y="378.92" width="7.51" height="32.39" fill="#a80404"/>
<rect x="320.13" y="379.65" width="7.51" height="31.66" fill="#fc3636"/>
<path d="M257.5 394.5H331" stroke="#b2b2b2" stroke-width="0.8"/>
<rect x="257.5" y="378.16" width="73.5" height="33.15" fill="none" stroke="#262626" stroke-width="0.78"/>
<path d="M255.1 378.16H257.5M255.1 394.73H257.5M255.1 411.31H257.5" stroke="#262626" stroke-width="0.9"/>
<rect x="349.05" y="405.18" width="7.51" height="6.13" fill="#029a04"/>
<rect x="356.51" y="405.18" width="7.51" height="6.13" fill="#33fa36"/>
<rect x="363.97" y="407.27" width="7.51" height="4.04" fill="#a35203"/>
<rect x="371.43" y="405.18" width="7.51" height="6.13" fill="#0445a8"/>
<rect x="378.89" y="405.48" width="7.51" height="5.83" fill="#3588fc"/>
<rect x="386.35" y="407.4" width="7.51" height="3.91" fill="#9d9802"/>
<rect x="393.81" y="407.4" width="7.51" height="3.91" fill="#eeeb04"/>
<rect x="401.27" y="381.31" width="7.51" height="30" fill="#a80404"/>
<rect x="408.73" y="382.97" width="7.51" height="28.34" fill="#fc3636"/>
<path d="M346.1 394.5H419.6" stroke="#b2b2b2" stroke-width="0.8"/>
<rect x="346.1" y="378.16" width="73.5" height="33.15" fill="none" stroke="#262626" stroke-width="0.78"/>
<path d="M343.7 378.16H346.1M343.7 394.73H346.1M343.7 411.31H346.1" stroke="#262626" stroke-width="0.9"/>
<rect x="437.75" y="406.2" width="7.51" height="5.11" fill="#029a04"/>
<rect x="445.21" y="406.5" width="7.51" height="4.81" fill="#33fa36"/>
<rect x="452.67" y="408.16" width="7.51" height="3.15" fill="#a35203"/>
<rect x="460.13" y="406.2" width="7.51" height="5.11" fill="#0445a8"/>
<rect x="467.59" y="406.34" width="7.51" height="4.97" fill="#3588fc"/>
<rect x="475.05" y="408.16" width="7.51" height="3.15" fill="#9d9802"/>
<rect x="482.51" y="408.16" width="7.51" height="3.15" fill="#eeeb04"/>
<rect x="489.97" y="391.22" width="7.51" height="20.09" fill="#a80404"/>
<rect x="497.43" y="391.65" width="7.51" height="19.66" fill="#fc3636"/>
<path d="M434.8 394.5H508.3" stroke="#b2b2b2" stroke-width="0.8"/>
<rect x="434.8" y="378.16" width="73.5" height="33.15" fill="none" stroke="#262626" stroke-width="0.78"/>
<path d="M432.4 378.16H434.8M432.4 394.73H434.8M432.4 411.31H434.8" stroke="#262626" stroke-width="0.9"/>
<text x="12.3" y="437.31" font-size="8.5">FNR = 0.3</text>
<text x="75.6" y="421.09" font-size="7.1" text-anchor="end">1.0</text>
<text x="75.6" y="437.67" font-size="7.1" text-anchor="end">0.5</text>
<text x="75.6" y="454.24" font-size="7.1" text-anchor="end">0.0</text>
<rect x="83.35" y="435.05" width="7.51" height="16.34" fill="#029a04"/>
<rect x="90.81" y="435.15" width="7.51" height="16.24" fill="#33fa36"/>
<rect x="98.27" y="435.05" width="7.51" height="16.34" fill="#a35203"/>
<rect x="105.73" y="435.05" width="7.51" height="16.34" fill="#0445a8"/>
<rect x="113.19" y="435.15" width="7.51" height="16.24" fill="#3588fc"/>
<rect x="120.65" y="435.05" width="7.51" height="16.34" fill="#9d9802"/>
<rect x="128.11" y="435.15" width="7.51" height="16.24" fill="#eeeb04"/>
<rect x="135.57" y="418.9" width="7.51" height="32.49" fill="#a80404"/>
<rect x="143.03" y="418.9" width="7.51" height="32.49" fill="#fc3636"/>
<path d="M80.4 435.5H153.9" stroke="#b2b2b2" stroke-width="0.8"/>
<rect x="80.4" y="418.24" width="73.5" height="33.15" fill="none" stroke="#262626" stroke-width="0.78"/>
<path d="M78 418.24H80.4M78 434.81H80.4M78 451.39H80.4" stroke="#262626" stroke-width="0.9"/>
<rect x="171.75" y="441.78" width="7.51" height="9.61" fill="#029a04"/>
<rect x="179.21" y="441.94" width="7.51" height="9.45" fill="#33fa36"/>
<rect x="186.67" y="443" width="7.51" height="8.39" fill="#a35203"/>
<rect x="194.13" y="441.78" width="7.51" height="9.61" fill="#0445a8"/>
<rect x="201.59" y="441.94" width="7.51" height="9.45" fill="#3588fc"/>
<rect x="209.05" y="443.3" width="7.51" height="8.09" fill="#9d9802"/>
<rect x="216.51" y="443.3" width="7.51" height="8.09" fill="#eeeb04"/>
<rect x="223.97" y="419.07" width="7.51" height="32.32" fill="#a80404"/>
<rect x="231.43" y="419.4" width="7.51" height="31.99" fill="#fc3636"/>
<path d="M168.8 435.5H242.3" stroke="#b2b2b2" stroke-width="0.8"/>
<rect x="168.8" y="418.24" width="73.5" height="33.15" fill="none" stroke="#262626" stroke-width="0.78"/>
<path d="M166.4 418.24H168.8M166.4 434.81H168.8M166.4 451.39H168.8" stroke="#262626" stroke-width="0.9"/>
<rect x="260.45" y="444.33" width="7.51" height="7.06" fill="#029a04"/>
<rect x="267.91" y="444.63" width="7.51" height="6.76" fill="#33fa36"/>
<rect x="275.37" y="446.28" width="7.51" height="5.11" fill="#a35203"/>
<rect x="282.83" y="444.33" width="7.51" height="7.06" fill="#0445a8"/>
<rect x="290.29" y="444.49" width="7.51" height="6.9" fill="#3588fc"/>
<rect x="297.75" y="446.58" width="7.51" height="4.81" fill="#9d9802"/>
<rect x="305.21" y="446.58" width="7.51" height="4.81" fill="#eeeb04"/>
<rect x="312.67" y="421.22" width="7.51" height="30.17" fill="#a80404"/>
<rect x="320.13" y="421.22" width="7.51" height="30.17" fill="#fc3636"/>
<path d="M257.5 435.5H331" stroke="#b2b2b2" stroke-width="0.8"/>
<rect x="257.5" y="418.24" width="73.5" height="33.15" fill="none" stroke="#262626" stroke-width="0.78"/>
<path d="M255.1 418.24H257.5M255.1 434.81H257.5M255.1 451.39H257.5" stroke="#262626" stroke-width="0.9"/>
<rect x="349.05" y="445.99" width="7.51" height="5.4" fill="#029a04"/>
<rect x="356.51" y="445.99" width="7.51" height="5.4" fill="#33fa36"/>
<rect x="363.97" y="447.94" width="7.51" height="3.45" fill="#a35203"/>
<rect x="371.43" y="445.99" width="7.51" height="5.4" fill="#0445a8"/>
<rect x="378.89" y="445.99" width="7.51" height="5.4" fill="#3588fc"/>
<rect x="386.35" y="448.07" width="7.51" height="3.31" fill="#9d9802"/>
<rect x="393.81" y="448.07" width="7.51" height="3.31" fill="#eeeb04"/>
<rect x="401.27" y="429.64" width="7.51" height="21.75" fill="#a80404"/>
<rect x="408.73" y="425.2" width="7.51" height="26.19" fill="#fc3636"/>
<path d="M346.1 435.5H419.6" stroke="#b2b2b2" stroke-width="0.8"/>
<rect x="346.1" y="418.24" width="73.5" height="33.15" fill="none" stroke="#262626" stroke-width="0.78"/>
<path d="M343.7 418.24H346.1M343.7 434.81H346.1M343.7 451.39H346.1" stroke="#262626" stroke-width="0.9"/>
<rect x="437.75" y="447.08" width="7.51" height="4.31" fill="#029a04"/>
<rect x="445.21" y="447.08" width="7.51" height="4.31" fill="#33fa36"/>
<rect x="452.67" y="448.74" width="7.51" height="2.65" fill="#a35203"/>
<rect x="460.13" y="447.08" width="7.51" height="4.31" fill="#0445a8"/>
<rect x="467.59" y="447.08" width="7.51" height="4.31" fill="#3588fc"/>
<rect x="475.05" y="448.84" width="7.51" height="2.55" fill="#9d9802"/>
<rect x="482.51" y="448.84" width="7.51" height="2.55" fill="#eeeb04"/>
<rect x="489.97" y="435.81" width="7.51" height="15.58" fill="#a80404"/>
<rect x="497.43" y="435.81" width="7.51" height="15.58" fill="#fc3636"/>
<path d="M434.8 435.5H508.3" stroke="#b2b2b2" stroke-width="0.8"/>
<rect x="434.8" y="418.24" width="73.5" height="33.15" fill="none" stroke="#262626" stroke-width="0.78"/>
<path d="M432.4 418.24H434.8M432.4 434.81H434.8M432.4 451.39H434.8" stroke="#262626" stroke-width="0.9"/>
<text x="12.3" y="477.39" font-size="8.5">FNR = 0.4</text>
<text x="75.6" y="461.17" font-size="7.1" text-anchor="end">1.0</text>
<text x="75.6" y="477.75" font-size="7.1" text-anchor="end">0.5</text>
<text x="75.6" y="494.32" font-size="7.1" text-anchor="end">0.0</text>
<rect x="83.35" y="476.88" width="7.51" height="14.59" fill="#029a04"/>
<rect x="90.81" y="477.38" width="7.51" height="14.09" fill="#33fa36"/>
<rect x="98.27" y="477.05" width="7.51" height="14.42" fill="#a35203"/>
<rect x="105.73" y="476.88" width="7.51" height="14.59" fill="#0445a8"/>
<rect x="113.19" y="477.38" width="7.51" height="14.09" fill="#3588fc"/>
<rect x="120.65" y="476.88" width="7.51" height="14.59" fill="#9d9802"/>
<rect x="128.11" y="477.38" width="7.51" height="14.09" fill="#eeeb04"/>
<rect x="135.57" y="458.82" width="7.51" height="32.65" fill="#a80404"/>
<rect x="143.03" y="458.82" width="7.51" height="32.65" fill="#fc3636"/>
<path d="M80.4 475.5H153.9" stroke="#b2b2b2" stroke-width="0.8"/>
<rect x="80.4" y="458.32" width="73.5" height="33.15" fill="none" stroke="#262626" stroke-width="0.78"/>
<path d="M78 458.32H80.4M78 474.89H80.4M78 491.47H80.4" stroke="#262626" stroke-width="0.9"/>
<rect x="171.75" y="483.18" width="7.51" height="8.29" fill="#029a04"/>
<rect x="179.21" y="483.35" width="7.51" height="8.12" fill="#33fa36"/>
<rect x="186.67" y="483.98" width="7.51" height="7.49" fill="#a35203"/>
<rect x="194.13" y="483.18" width="7.51" height="8.29" fill="#0445a8"/>
<rect x="201.59" y="483.35" width="7.51" height="8.12" fill="#3588fc"/>
<rect x="209.05" y="484.28" width="7.51" height="7.19" fill="#9d9802"/>
<rect x="216.51" y="484.28" width="7.51" height="7.19" fill="#eeeb04"/>
<rect x="223.97" y="460.14" width="7.51" height="31.33" fill="#a80404"/>
<rect x="231.43" y="460.97" width="7.51" height="30.5" fill="#fc3636"/>
<path d="M168.8 475.5H242.3" stroke="#b2b2b2" stroke-width="0.8"/>
<rect x="168.8" y="458.32" width="73.5" height="33.15" fill="none" stroke="#262626" stroke-width="0.78"/>
<path d="M166.4 458.32H168.8M166.4 474.89H168.8M166.4 491.47H168.8" stroke="#262626" stroke-width="0.9"/>
<rect x="260.45" y="485.77" width="7.51" height="5.7" fill="#029a04"/>
<rect x="267.91" y="485.93" width="7.51" height="5.54" fill="#33fa36"/>
<rect x="275.37" y="487.16" width="7.51" height="4.31" fill="#a35203"/>
<rect x="282.83" y="485.64" width="7.51" height="5.83" fill="#0445a8"/>
<rect x="290.29" y="485.93" width="7.51" height="5.54" fill="#3588fc"/>
<rect x="297.75" y="487.26" width="7.51" height="4.21" fill="#9d9802"/>
<rect x="305.21" y="487.26" width="7.51" height="4.21" fill="#eeeb04"/>
<rect x="312.67" y="465.38" width="7.51" height="26.09" fill="#a80404"/>
<rect x="320.13" y="465.81" width="7.51" height="25.66" fill="#fc3636"/>
<path d="M257.5 475.5H331" stroke="#b2b2b2" stroke-width="0.8"/>
<rect x="257.5" y="458.32" width="73.5" height="33.15" fill="none" stroke="#262626" stroke-width="0.78"/>
<path d="M255.1 458.32H257.5M255.1 474.89H257.5M255.1 491.47H257.5" stroke="#262626" stroke-width="0.9"/>
<rect x="349.05" y="486.96" width="7.51" height="4.51" fill="#029a04"/>
<rect x="356.51" y="486.96" width="7.51" height="4.51" fill="#33fa36"/>
<rect x="363.97" y="488.49" width="7.51" height="2.98" fill="#a35203"/>
<rect x="371.43" y="486.96" width="7.51" height="4.51" fill="#0445a8"/>
<rect x="378.89" y="486.96" width="7.51" height="4.51" fill="#3588fc"/>
<rect x="386.35" y="488.62" width="7.51" height="2.85" fill="#9d9802"/>
<rect x="393.81" y="488.62" width="7.51" height="2.85" fill="#eeeb04"/>
<rect x="401.27" y="475.72" width="7.51" height="15.75" fill="#a80404"/>
<rect x="408.73" y="477.08" width="7.51" height="14.39" fill="#fc3636"/>
<path d="M346.1 475.5H419.6" stroke="#b2b2b2" stroke-width="0.8"/>
<rect x="346.1" y="458.32" width="73.5" height="33.15" fill="none" stroke="#262626" stroke-width="0.78"/>
<path d="M343.7 458.32H346.1M343.7 474.89H346.1M343.7 491.47H346.1" stroke="#262626" stroke-width="0.9"/>
<rect x="437.75" y="487.82" width="7.51" height="3.65" fill="#029a04"/>
<rect x="445.21" y="487.82" width="7.51" height="3.65" fill="#33fa36"/>
<rect x="452.67" y="489.22" width="7.51" height="2.25" fill="#a35203"/>
<rect x="460.13" y="487.82" width="7.51" height="3.65" fill="#0445a8"/>
<rect x="467.59" y="487.82" width="7.51" height="3.65" fill="#3588fc"/>
<rect x="475.05" y="489.38" width="7.51" height="2.09" fill="#9d9802"/>
<rect x="482.51" y="489.38" width="7.51" height="2.09" fill="#eeeb04"/>
<rect x="489.97" y="485.93" width="7.51" height="5.54" fill="#a80404"/>
<rect x="497.43" y="489.38" width="7.51" height="2.09" fill="#fc3636"/>
<path d="M434.8 475.5H508.3" stroke="#b2b2b2" stroke-width="0.8"/>
<rect x="434.8" y="458.32" width="73.5" height="33.15" fill="none" stroke="#262626" stroke-width="0.78"/>
<path d="M432.4 458.32H434.8M432.4 474.89H434.8M432.4 491.47H434.8" stroke="#262626" stroke-width="0.9"/>
<rect x="97.2" y="503.07" width="380.3" height="12.7" rx="1.4" fill="#fff" stroke="#dadada" stroke-width="0.7"/>
<rect x="100.1" y="506.67" width="13.9" height="4.8" fill="#029a04"/>
<text x="119.7" y="511.67" font-size="7.1">s</text>
<rect x="137.1" y="506.67" width="13.9" height="4.8" fill="#33fa36"/>
<text x="156.7" y="511.67" font-size="7.1">ss</text>
<rect x="178" y="506.67" width="13.9" height="4.8" fill="#a35203"/>
<text x="197.6" y="511.67" font-size="7.1">r</text>
<rect x="214.9" y="506.67" width="13.9" height="4.8" fill="#0445a8"/>
<text x="234.5" y="511.67" font-size="7.1">cs</text>
<rect x="255.1" y="506.67" width="13.9" height="4.8" fill="#3588fc"/>
<text x="274.7" y="511.67" font-size="7.1">css</text>
<rect x="300" y="506.67" width="13.9" height="4.8" fill="#9d9802"/>
<text x="319.6" y="511.67" font-size="7.1">p</text>
<rect x="338.3" y="506.67" width="13.9" height="4.8" fill="#eeeb04"/>
<text x="357.9" y="511.67" font-size="7.1">ps</text>
<rect x="380" y="506.67" width="13.9" height="4.8" fill="#a80404"/>
<text x="399.6" y="511.67" font-size="7.1">Tnet</text>
<rect x="429.1" y="506.67" width="13.9" height="4.8" fill="#fc3636"/>
<text x="448.7" y="511.67" font-size="7.1" font-style="italic">Tnet<tspan dy="1.5" font-size="6.2">css</tspan></text>
<text x="287.3" y="540.5" font-size="12" text-anchor="middle" style="stroke-width:.12px" font-family="'Liberation Serif', 'DejaVu Serif', serif">(<tspan font-weight="bold">b</tspan>)</text>
</svg>
</body></html>
